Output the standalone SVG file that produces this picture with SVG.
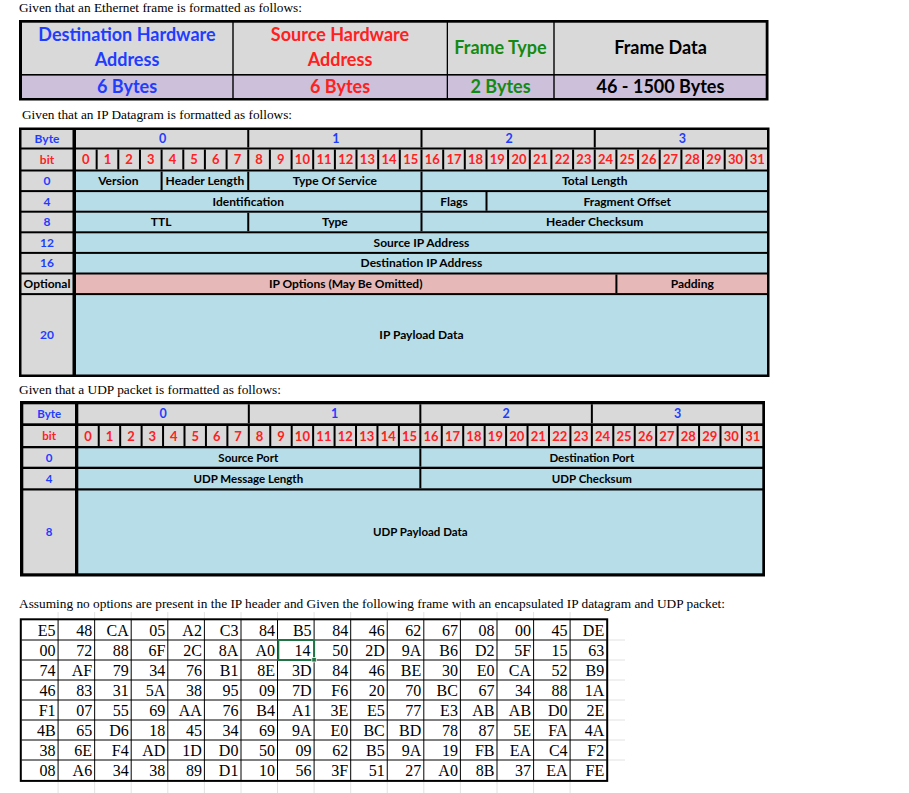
<svg xmlns="http://www.w3.org/2000/svg" width="909" height="793" viewBox="0 0 909 793">
<style>
.t{font-family:"Liberation Serif","Times New Roman",serif;font-size:13px;fill:#000}
.c{font-family:Lato,"Liberation Sans",sans-serif;font-weight:bold;text-anchor:middle}
.eth{font-size:18px}
.lbl{font-size:12px;fill:#000}
.ul{font-size:11.5px}
.bl{fill:#1f3dff}
.rd{fill:#ff2020}
.gr{fill:#138a13}
.bn{font-size:12.5px;fill:#1f3dff}
.bit{font-size:13px;fill:#ff2020}
.hex{font-family:"Liberation Serif","Times New Roman",serif;font-size:16px;text-anchor:end;fill:#000}
.g{fill:#d9d9d9}.b{fill:#b7dde8}.p{fill:#e6b8b7}.v{fill:#ccc0da}
.sep{stroke:#000;stroke-width:2;fill:none}
.grid{stroke:#000;stroke-width:1;fill:none}
</style>
<rect width="909" height="793" fill="#fff"/>

<g id="titles">
<text class="t" x="19" y="11.5" textLength="283" lengthAdjust="spacingAndGlyphs">Given that an Ethernet frame is formatted as follows:</text>
<text class="t" x="22" y="119" textLength="270" lengthAdjust="spacingAndGlyphs">Given that an IP Datagram is formatted as follows:</text>
<text class="t" x="19" y="394" textLength="262" lengthAdjust="spacingAndGlyphs">Given that a UDP packet is formatted as follows:</text>
<text class="t" x="19" y="608" textLength="706" lengthAdjust="spacingAndGlyphs">Assuming no options are present in the IP header and Given the following frame with an encapsulated IP datagram and UDP packet:</text>
</g>

<g id="ethernet-frame">
<rect x="19" y="20" width="749.5" height="80.5" fill="#000"/>
<rect class="g" x="22" y="22.7" width="210.3" height="51.3"/>
<rect class="g" x="233.7" y="22.7" width="213" height="51.3"/>
<rect class="g" x="448" y="22.7" width="105.3" height="51.3"/>
<rect class="g" x="554.7" y="22.7" width="211" height="51.3"/>
<rect class="v" x="22" y="75.6" width="210.3" height="22.4"/>
<rect class="v" x="233.7" y="75.6" width="213" height="22.4"/>
<rect class="v" x="448" y="75.6" width="105.3" height="22.4"/>
<rect class="v" x="554.7" y="75.6" width="211" height="22.4"/>
<text class="c eth bl" x="127" y="40.5">Destination Hardware</text>
<text class="c eth bl" x="127" y="65.5">Address</text>
<text class="c eth rd" x="340" y="40.5">Source Hardware</text>
<text class="c eth rd" x="340" y="65.5">Address</text>
<text class="c eth gr" x="500.5" y="53.5">Frame Type</text>
<text class="c eth" x="660.5" y="53.5" fill="#000">Frame Data</text>
<text class="c eth bl" x="127" y="92.5">6 Bytes</text>
<text class="c eth rd" x="340" y="92.5">6 Bytes</text>
<text class="c eth gr" x="500.5" y="92.5">2 Bytes</text>
<text class="c eth" x="660.5" y="92.5" fill="#000">46 - 1500 Bytes</text>
</g>

<g id="ip-datagram">
<rect x="19" y="127.5" width="750.5" height="249.5" fill="#000"/>
<g id="ip-labels">
<rect class="g" x="21.5" y="130" width="51" height="17.5"/>
<rect class="g" x="21.5" y="149.5" width="51" height="20"/>
<rect class="g" x="21.5" y="171.5" width="51" height="18.6"/>
<rect class="g" x="21.5" y="192.1" width="51" height="18.6"/>
<rect class="g" x="21.5" y="212.7" width="51" height="18.6"/>
<rect class="g" x="21.5" y="233.3" width="51" height="18.6"/>
<rect class="g" x="21.5" y="253.9" width="51" height="18.6"/>
<rect class="g" x="21.5" y="274.5" width="51" height="18.6"/>
<rect class="g" x="21.5" y="295.1" width="51" height="79.4"/>
<text class="c lbl bl" x="47" y="143">Byte</text>
<text class="c lbl rd" x="47" y="164">bit</text>
<text class="c lbl bl" x="47" y="185">0</text>
<text class="c lbl bl" x="47" y="205.6">4</text>
<text class="c lbl bl" x="47" y="226.2">8</text>
<text class="c lbl bl" x="47" y="246.8">12</text>
<text class="c lbl bl" x="47" y="267.4">16</text>
<text class="c lbl" x="47" y="288">Optional</text>
<text class="c lbl bl" x="47" y="339">20</text>
</g>
<g id="ip-byte-row">
<rect class="g" x="76" y="130" width="691" height="17.5"/>
<path class="sep" d="M248.25 130V147.5M421.5 130V147.5M594.75 130V147.5"/>
<text class="c bn" y="143"><tspan x="162.6">0</tspan><tspan x="335.9">1</tspan><tspan x="509.1">2</tspan><tspan x="682.4">3</tspan></text>
</g>
<g id="ip-bit-row">
<rect class="g" x="76" y="149.5" width="691" height="20"/>
<path class="sep" d="M96.66 149.5v20M118.3 149.5v20M139.97 149.5v20M161.6 149.5v20M183.3 149.5v20M204.9 149.5v20M226.6 149.5v20M248.25 149.5v20M269.9 149.5v20M291.6 149.5v20M313.2 149.5v20M334.9 149.5v20M356.5 149.5v20M378.2 149.5v20M399.8 149.5v20M421.5 149.5v20M443.2 149.5v20M464.8 149.5v20M486.5 149.5v20M508.1 149.5v20M529.8 149.5v20M551.4 149.5v20M573.1 149.5v20M594.75 149.5v20M616.4 149.5v20M638.1 149.5v20M659.7 149.5v20M681.4 149.5v20M703 149.5v20M724.7 149.5v20M746.3 149.5v20"/>
<text class="c bit" y="164.2"><tspan x="85.8">0</tspan><tspan x="107.5">1</tspan><tspan x="129.1">2</tspan><tspan x="150.8">3</tspan><tspan x="172.5">4</tspan><tspan x="194.1">5</tspan><tspan x="215.8">6</tspan><tspan x="237.4">7</tspan><tspan x="259.1">8</tspan><tspan x="280.7">9</tspan><tspan x="302.4">10</tspan><tspan x="324.1">11</tspan><tspan x="345.7">12</tspan><tspan x="367.4">13</tspan><tspan x="389">14</tspan><tspan x="410.7">15</tspan><tspan x="432.3">16</tspan><tspan x="454">17</tspan><tspan x="475.6">18</tspan><tspan x="497.3">19</tspan><tspan x="519">20</tspan><tspan x="540.6">21</tspan><tspan x="562.3">22</tspan><tspan x="583.9">23</tspan><tspan x="605.6">24</tspan><tspan x="627.2">25</tspan><tspan x="648.9">26</tspan><tspan x="670.5">27</tspan><tspan x="692.2">28</tspan><tspan x="713.9">29</tspan><tspan x="735.5">30</tspan><tspan x="757.2">31</tspan></text>
</g>
<g id="ip-row-0">
<rect class="b" x="76" y="171.5" width="691" height="18.6"/>
<path class="sep" d="M161.6 171.5v18.6M248.25 171.5v18.6M421.5 171.5v18.6"/>
<text class="c lbl" y="185"><tspan x="118.3">Version</tspan><tspan x="204.9">Header Length</tspan><tspan x="334.9">Type Of Service</tspan><tspan x="594.75">Total Length</tspan></text>
</g>
<g id="ip-row-4">
<rect class="b" x="76" y="192.1" width="691" height="18.6"/>
<path class="sep" d="M421.5 192.1v18.6M486.5 192.1v18.6"/>
<text class="c lbl" y="205.6"><tspan x="248.25">Identification</tspan><tspan x="454">Flags</tspan><tspan x="627.25">Fragment Offset</tspan></text>
</g>
<g id="ip-row-8">
<rect class="b" x="76" y="212.7" width="691" height="18.6"/>
<path class="sep" d="M248.25 212.7v18.6M421.5 212.7v18.6"/>
<text class="c lbl" y="226.2"><tspan x="161.1">TTL</tspan><tspan x="334.9">Type</tspan><tspan x="594.75">Header Checksum</tspan></text>
</g>
<g id="ip-row-12">
<rect class="b" x="76" y="233.3" width="691" height="18.6"/>
<text class="c lbl" x="421.5" y="246.8">Source IP Address</text>
</g>
<g id="ip-row-16">
<rect class="b" x="76" y="253.9" width="691" height="18.6"/>
<text class="c lbl" x="421.5" y="267.4">Destination IP Address</text>
</g>
<g id="ip-row-optional">
<rect class="p" x="76" y="274.5" width="691" height="18.6"/>
<path class="sep" d="M616.4 274.5v18.6"/>
<text class="c lbl" y="288"><tspan x="345.7">IP Options (May Be Omitted)</tspan><tspan x="692.2">Padding</tspan></text>
</g>
<g id="ip-row-20">
<rect class="b" x="76" y="295.1" width="691" height="79.4"/>
<text class="c lbl" x="421.5" y="339">IP Payload Data</text>
</g>
</g>

<g id="udp-packet">
<rect x="20" y="401" width="745" height="175.5" fill="#000"/>
<g id="udp-labels">
<rect class="g" x="23.3" y="404.3" width="51.7" height="19"/>
<rect class="g" x="23.3" y="426" width="51.7" height="20"/>
<rect class="g" x="23.3" y="448.3" width="51.7" height="18.4"/>
<rect class="g" x="23.3" y="469" width="51.7" height="19.3"/>
<rect class="g" x="23.3" y="490.5" width="51.7" height="82.8"/>
<text class="c lbl ul bl" x="49.15" y="417.8">Byte</text>
<text class="c lbl ul rd" x="49.15" y="440">bit</text>
<text class="c lbl ul bl" x="49.15" y="461.5">0</text>
<text class="c lbl ul bl" x="49.15" y="482.6">4</text>
<text class="c lbl ul bl" x="49.15" y="535.9">8</text>
</g>
<g id="udp-byte-row">
<rect class="g" x="78.3" y="404.3" width="684" height="19"/>
<path class="sep" d="M248.82 404.3v19M420.34 404.3v19M591.86 404.3v19"/>
<text class="c bn" y="418.2"><tspan x="163.1">0</tspan><tspan x="334.6">1</tspan><tspan x="506.1">2</tspan><tspan x="677.6">3</tspan></text>
</g>
<g id="udp-bit-row">
<rect class="g" x="78.3" y="426" width="684" height="20"/>
<path class="sep" d="M98.74 426v20M120.18 426v20M141.62 426v20M163.06 426v20M184.5 426v20M205.94 426v20M227.38 426v20M248.82 426v20M270.26 426v20M291.7 426v20M313.14 426v20M334.58 426v20M356.02 426v20M377.46 426v20M398.9 426v20M420.34 426v20M441.78 426v20M463.22 426v20M484.66 426v20M506.1 426v20M527.54 426v20M548.98 426v20M570.42 426v20M591.86 426v20M613.3 426v20M634.74 426v20M656.18 426v20M677.62 426v20M699.06 426v20M720.5 426v20M741.94 426v20"/>
<text class="c bit" y="440.7"><tspan x="88">0</tspan><tspan x="109.5">1</tspan><tspan x="130.9">2</tspan><tspan x="152.3">3</tspan><tspan x="173.8">4</tspan><tspan x="195.2">5</tspan><tspan x="216.7">6</tspan><tspan x="238.1">7</tspan><tspan x="259.5">8</tspan><tspan x="281">9</tspan><tspan x="302.4">10</tspan><tspan x="323.9">11</tspan><tspan x="345.3">12</tspan><tspan x="366.7">13</tspan><tspan x="388.2">14</tspan><tspan x="409.6">15</tspan><tspan x="431.1">16</tspan><tspan x="452.5">17</tspan><tspan x="473.9">18</tspan><tspan x="495.4">19</tspan><tspan x="516.8">20</tspan><tspan x="538.3">21</tspan><tspan x="559.7">22</tspan><tspan x="581.1">23</tspan><tspan x="602.6">24</tspan><tspan x="624">25</tspan><tspan x="645.5">26</tspan><tspan x="666.9">27</tspan><tspan x="688.3">28</tspan><tspan x="709.8">29</tspan><tspan x="731.2">30</tspan><tspan x="752.7">31</tspan></text>
</g>
<g id="udp-row-0">
<rect class="b" x="78.3" y="448.3" width="684" height="18.4"/>
<path class="sep" d="M420.34 448.3v18.4"/>
<text class="c lbl ul" y="461.5"><tspan x="248.3">Source Port</tspan><tspan x="591.8">Destination Port</tspan></text>
</g>
<g id="udp-row-4">
<rect class="b" x="78.3" y="469" width="684" height="19.3"/>
<path class="sep" d="M420.34 469v19.3"/>
<text class="c lbl ul" y="482.6"><tspan x="248.3">UDP Message Length</tspan><tspan x="591.8">UDP Checksum</tspan></text>
</g>
<g id="udp-row-8">
<rect class="b" x="78.3" y="490.5" width="684" height="82.8"/>
<text class="c lbl ul" x="420.3" y="535.9">UDP Payload Data</text>
</g>
</g>

<g id="hex-frame">
<path d="M58.08 612v8M94.65 612v8M131.2 612v8M167.8 612v8M204.4 612v8M241 612v8M277.5 612v8M314.1 612v8M350.7 612v8M387.25 612v8M423.8 612v8M460.4 612v8M497 612v8M533.6 612v8M570.1 612v8M58.08 782v11M94.65 782v11M131.2 782v11M167.8 782v11M204.4 782v11M241 782v11M277.5 782v11M314.1 782v11M350.7 782v11M387.25 782v11M423.8 782v11M460.4 782v11M497 782v11M533.6 782v11M570.1 782v11M608 640h17M608 660h17M608 680h17M608 700h17M608 720h17M608 740h17M608 760h17" stroke="#e2e2e2" stroke-width="1" fill="none"/>
<path class="grid" d="M58.08 620V780M94.65 620V780M131.2 620V780M167.8 620V780M204.4 620V780M241 620V780M277.5 620V780M314.1 620V780M350.7 620V780M387.25 620V780M423.8 620V780M460.4 620V780M497 620V780M533.6 620V780M570.1 620V780M21.5 640H606.7M21.5 660H606.7M21.5 680H606.7M21.5 700H606.7M21.5 720H606.7M21.5 740H606.7M21.5 760H606.7"/>
<rect x="20.8" y="619.3" width="586.4" height="161.6" fill="none" stroke="#000" stroke-width="2"/>
<rect x="278.3" y="640" width="35.8" height="20" fill="none" stroke="#217346" stroke-width="2"/>
<rect x="311.8" y="657.5" width="4.5" height="4.5" fill="#217346" stroke="#fff" stroke-width="0.8"/>
<text class="hex" y="635.5"><tspan x="55.6">E5</tspan><tspan x="92.15">48</tspan><tspan x="128.7">CA</tspan><tspan x="165.3">05</tspan><tspan x="201.9">A2</tspan><tspan x="238.4">C3</tspan><tspan x="275">84</tspan><tspan x="311.6">B5</tspan><tspan x="348.2">84</tspan><tspan x="384.75">46</tspan><tspan x="421.3">62</tspan><tspan x="457.9">67</tspan><tspan x="494.5">08</tspan><tspan x="531.1">00</tspan><tspan x="567.6">45</tspan><tspan x="604.2">DE</tspan></text>
<text class="hex" y="655.5"><tspan x="55.6">00</tspan><tspan x="92.15">72</tspan><tspan x="128.7">88</tspan><tspan x="165.3">6F</tspan><tspan x="201.9">2C</tspan><tspan x="238.4">8A</tspan><tspan x="275">A0</tspan><tspan x="310.6">14</tspan><tspan x="348.2">50</tspan><tspan x="384.75">2D</tspan><tspan x="421.3">9A</tspan><tspan x="457.9">B6</tspan><tspan x="494.5">D2</tspan><tspan x="531.1">5F</tspan><tspan x="567.6">15</tspan><tspan x="604.2">63</tspan></text>
<text class="hex" y="675.5"><tspan x="55.6">74</tspan><tspan x="92.15">AF</tspan><tspan x="128.7">79</tspan><tspan x="165.3">34</tspan><tspan x="201.9">76</tspan><tspan x="238.4">B1</tspan><tspan x="275">8E</tspan><tspan x="311.6">3D</tspan><tspan x="348.2">84</tspan><tspan x="384.75">46</tspan><tspan x="421.3">BE</tspan><tspan x="457.9">30</tspan><tspan x="494.5">E0</tspan><tspan x="531.1">CA</tspan><tspan x="567.6">52</tspan><tspan x="604.2">B9</tspan></text>
<text class="hex" y="695.5"><tspan x="55.6">46</tspan><tspan x="92.15">83</tspan><tspan x="128.7">31</tspan><tspan x="165.3">5A</tspan><tspan x="201.9">38</tspan><tspan x="238.4">95</tspan><tspan x="275">09</tspan><tspan x="311.6">7D</tspan><tspan x="348.2">F6</tspan><tspan x="384.75">20</tspan><tspan x="421.3">70</tspan><tspan x="457.9">BC</tspan><tspan x="494.5">67</tspan><tspan x="531.1">34</tspan><tspan x="567.6">88</tspan><tspan x="604.2">1A</tspan></text>
<text class="hex" y="715.5"><tspan x="55.6">F1</tspan><tspan x="92.15">07</tspan><tspan x="128.7">55</tspan><tspan x="165.3">69</tspan><tspan x="201.9">AA</tspan><tspan x="238.4">76</tspan><tspan x="275">B4</tspan><tspan x="311.6">A1</tspan><tspan x="348.2">3E</tspan><tspan x="384.75">E5</tspan><tspan x="421.3">77</tspan><tspan x="457.9">E3</tspan><tspan x="494.5">AB</tspan><tspan x="531.1">AB</tspan><tspan x="567.6">D0</tspan><tspan x="604.2">2E</tspan></text>
<text class="hex" y="735.5"><tspan x="55.6">4B</tspan><tspan x="92.15">65</tspan><tspan x="128.7">D6</tspan><tspan x="165.3">18</tspan><tspan x="201.9">45</tspan><tspan x="238.4">34</tspan><tspan x="275">69</tspan><tspan x="311.6">9A</tspan><tspan x="348.2">E0</tspan><tspan x="384.75">BC</tspan><tspan x="421.3">BD</tspan><tspan x="457.9">78</tspan><tspan x="494.5">87</tspan><tspan x="531.1">5E</tspan><tspan x="567.6">FA</tspan><tspan x="604.2">4A</tspan></text>
<text class="hex" y="755.5"><tspan x="55.6">38</tspan><tspan x="92.15">6E</tspan><tspan x="128.7">F4</tspan><tspan x="165.3">AD</tspan><tspan x="201.9">1D</tspan><tspan x="238.4">D0</tspan><tspan x="275">50</tspan><tspan x="311.6">09</tspan><tspan x="348.2">62</tspan><tspan x="384.75">B5</tspan><tspan x="421.3">9A</tspan><tspan x="457.9">19</tspan><tspan x="494.5">FB</tspan><tspan x="531.1">EA</tspan><tspan x="567.6">C4</tspan><tspan x="604.2">F2</tspan></text>
<text class="hex" y="775.5"><tspan x="55.6">08</tspan><tspan x="92.15">A6</tspan><tspan x="128.7">34</tspan><tspan x="165.3">38</tspan><tspan x="201.9">89</tspan><tspan x="238.4">D1</tspan><tspan x="275">10</tspan><tspan x="311.6">56</tspan><tspan x="348.2">3F</tspan><tspan x="384.75">51</tspan><tspan x="421.3">27</tspan><tspan x="457.9">A0</tspan><tspan x="494.5">8B</tspan><tspan x="531.1">37</tspan><tspan x="567.6">EA</tspan><tspan x="604.2">FE</tspan></text>
</g>
</svg>
